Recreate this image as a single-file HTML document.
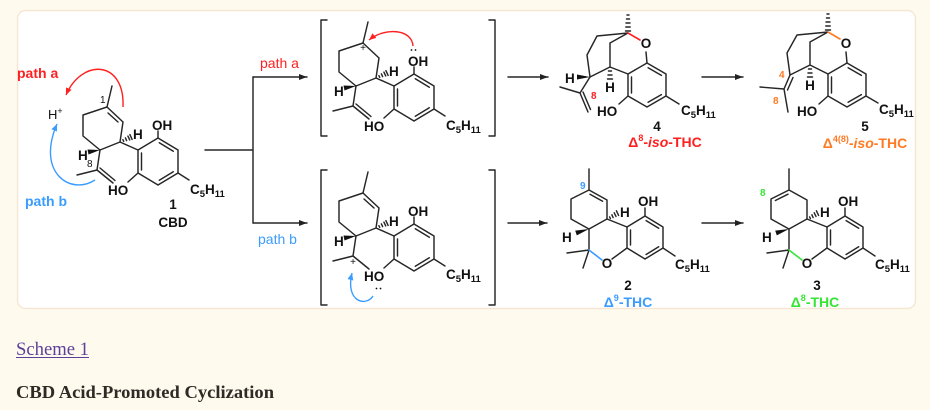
<!DOCTYPE html>
<html><head><meta charset="utf-8">
<style>
html,body{margin:0;padding:0;}
body{width:930px;height:410px;background:#fefaee;overflow:hidden;}
svg{display:block;}
.b{font-family:"Liberation Sans",Arial,sans-serif;font-weight:bold;font-size:13.5px;fill:#111;}
.n{font-family:"Liberation Sans",Arial,sans-serif;font-size:10px;fill:#111;}
</style></head><body>
<svg width="930" height="410" viewBox="0 0 930 410" xmlns="http://www.w3.org/2000/svg">
<defs>
<marker id="ak" markerUnits="userSpaceOnUse" markerWidth="9" markerHeight="6" refX="8" refY="3" orient="auto"><path d="M0,0 L8,3 L0,6 z" fill="#222"/></marker>
<marker id="ar" markerUnits="userSpaceOnUse" markerWidth="8" markerHeight="6" refX="7" refY="3" orient="auto"><path d="M0,0 L7,3 L0,6 z" fill="#ff2020"/></marker>
<marker id="ab" markerUnits="userSpaceOnUse" markerWidth="8" markerHeight="6" refX="7" refY="3" orient="auto"><path d="M0,0 L7,3 L0,6 z" fill="#3a9cff"/></marker>
</defs>
<rect x="17.5" y="10.5" width="898" height="298" rx="8" fill="#ffffff" stroke="#f6e7d4" stroke-width="1.5"/>

<g stroke="#262626" stroke-width="1.45" fill="none" stroke-linecap="round" stroke-linejoin="round">
<!-- ===== CBD ===== -->
<path d="M107,107 L123,122 L120,142 L100,150 L83,136 L83,115 Z"/>
<path d="M108,113 L118,122"/>
<path d="M107,107 L112,86"/>
<path d="M122.9,139.7 L123.7,141.3 M125.4,137.9 L126.6,140.6 M127.9,136.1 L129.7,139.9 M129.9,134.6 L132.1,139.4"/>
<path d="M100,150 L97,170 M97,170 L77,175 M97,170 L113,183 M100,168 L115,180.5"/>
<path d="M138,150 L158,138 L178,150 L178,173 L158,185 L138,173 Z"/>
<path d="M141.5,153 L141.5,170 M159.3,142.8 L173.3,151.2 M173.3,171.8 L159.3,180.2"/>
<path d="M120,142 L138,150 M158,138 L158,131 M138,173 L128,182 M178,173 L189,180"/>
<!-- branch -->
<path d="M205,150 L253,150 M253,77 L253,223"/>
<path d="M253,77 L307,77" marker-end="url(#ak)"/>
<path d="M253,223 L307,223" marker-end="url(#ak)"/>
<!-- brackets -->
<path d="M327,20 L321,20 L321,136 L327,136 M489,20 L495,20 L495,136 L489,136"/>
<path d="M327,170 L321,170 L321,305 L327,305 M489,170 L495,170 L495,305 L489,305"/>
<!-- ===== upper intermediate ===== -->
<path d="M363,43 L379,58 L376,78 L356,86 L339,72 L339,51 Z"/>
<path d="M363,43 L368,22"/>
<path d="M378.9,75.7 L379.7,77.3 M381.4,73.9 L382.6,76.6 M383.9,72.1 L385.7,75.9 M385.9,70.6 L388.1,75.4"/>
<path d="M356,86 L353,106 M353,106 L333,111 M353,106 L369,119 M356,104 L371,116.5"/>
<path d="M394,86 L414,74 L434,86 L434,109 L414,121 L394,109 Z"/>
<path d="M397.5,89 L397.5,106 M415.3,78.8 L429.3,87.2 M429.3,107.8 L415.3,116.2"/>
<path d="M376,78 L394,86 M414,74 L414,67 M394,109 L384,118 M434,109 L445,116"/>
<!-- ===== lower intermediate ===== -->
<path d="M363,193 L379,208 L376,228 L356,236 L339,222 L339,201 Z"/>
<path d="M364,199 L374,208"/>
<path d="M363,193 L368,172"/>
<path d="M378.9,225.7 L379.7,227.3 M381.4,223.9 L382.6,226.6 M383.9,222.1 L385.7,225.9 M385.9,220.6 L388.1,225.4"/>
<path d="M356,236 L353,256 M353,256 L333,261 M353,256 L369,269"/>
<path d="M394,236 L414,224 L434,236 L434,259 L414,271 L394,259 Z"/>
<path d="M397.5,239 L397.5,256 M415.3,228.8 L429.3,237.2 M429.3,257.8 L415.3,266.2"/>
<path d="M376,228 L394,236 M414,224 L414,217 M394,259 L384,268 M434,259 L445,266"/>
<!-- arrows -->
<path d="M508,77 L548,77" marker-end="url(#ak)"/>
<path d="M702,77 L743,77" marker-end="url(#ak)"/>
<path d="M508,223 L547,223" marker-end="url(#ak)"/>
<path d="M702,223 L743,223" marker-end="url(#ak)"/>
<!-- ===== 4 ===== -->
<path d="M627,15 L629,15 M626.5,19 L629.5,19 M626,23 L630,23 M625.8,27 L630.2,27 M625.5,31 L630.5,31"/>
<path d="M628,33 L597,36 L587,55 L590,77 L610,67 M628,33 L610,43 L610,67 L628,74"/>
<path d="M646,52 L647,63"/>
<path d="M608.5,71 L611.5,71 M608,75 L612,75 M607.5,79 L612.5,79"/>
<path d="M590,77 L580,93 M580,93 L560,87 M580,93 L588,112 M583,92 L590.5,109.5"/>
<path d="M628,74 L647,63 L666,74 L666,96 L647,107 L628,96 Z"/>
<path d="M631.5,77 L631.5,93 M648.1,67.7 L661.4,75.4 M661.4,94.6 L648.1,102.3"/>
<path d="M628,96 L619,104 M666,96 L679,104"/>
<!-- ===== 5 ===== -->
<path d="M827,14 L829,14 M826.5,18 L829.5,18 M826,22 L830,22 M825.8,26 L830.2,26 M825.5,30 L830.5,30"/>
<path d="M828,32 L797,35 L787,53 L790,75 L810,65 M828,32 L810,42 L810,65 L828,74"/>
<path d="M846,52 L847,63"/>
<path d="M808.5,69 L811.5,69 M808,73 L812,73 M807.5,77 L812.5,77"/>
<path d="M790,75 L784,89 M793,77.5 L787.5,90 M784,89 L760,87 M784,89 L788,112"/>
<path d="M828,74 L847,63 L866,74 L866,96 L847,107 L828,96 Z"/>
<path d="M831.5,77 L831.5,93 M848.1,67.7 L861.4,75.4 M861.4,94.6 L848.1,102.3"/>
<path d="M828,96 L819,104 M866,96 L878,103"/>
<!-- ===== 2 ===== -->
<path d="M589,169 L589,190"/>
<path d="M589,190 L607,200 L607,219 L589,229 L571,219 L571,199 Z"/>
<path d="M590,194.3 L602.6,201.3"/>
<path d="M609.6,216.9 L610.4,218.5 M611.9,214.8 L613.1,217.6 M614.2,212.8 L616,216.4 M616.4,210.8 L618.6,215.4"/>
<path d="M589,229 L589,250 M589,250 L567,253 M589,250 L583,268"/>
<path d="M612,259 L627,248 M607,219 L627,227"/>
<path d="M627,227 L645,216 L663,227 L663,248 L645,259 L627,248 Z"/>
<path d="M630.5,230 L630.5,245 M646.1,220.6 L658.7,228.3 M658.7,246.8 L646.1,254.5"/>
<path d="M645,216 L645,208 M663,248 L675,256"/>
<!-- ===== 3 ===== -->
<path d="M789,169 L789,190"/>
<path d="M789,190 L807,200 L807,219 L789,229 L771,219 L771,199 Z"/>
<path d="M775.4,200.5 L788,194.2"/>
<path d="M809.6,216.9 L810.4,218.5 M811.9,214.8 L813.1,217.6 M814.2,212.8 L816,216.4 M816.4,210.8 L818.6,215.4"/>
<path d="M789,229 L789,250 M789,250 L767,253 M789,250 L783,268"/>
<path d="M812,259 L827,248 M807,219 L827,227"/>
<path d="M827,227 L845,216 L863,227 L863,248 L845,259 L827,248 Z"/>
<path d="M830.5,230 L830.5,245 M846.1,220.6 L858.7,228.3 M858.7,246.8 L846.1,254.5"/>
<path d="M845,216 L845,208 M863,248 L875,256"/>
</g>

<!-- colored bonds -->
<g stroke-width="1.6" fill="none" stroke-linecap="round">
<path d="M628,33 L640,40" stroke="#ff2020"/>
<path d="M828,32 L840,39" stroke="#ff7a22"/>
<path d="M589,250 L602,260" stroke="#3a9cff"/>
<path d="M789,250 L802,260" stroke="#33e633"/>
</g>
<!-- wedges -->
<g fill="#111">
<polygon points="100,150 88.5,154.5 87.5,149.5"/>
<polygon points="356,86 344.5,90.5 343.5,85.5"/>
<polygon points="356,236 344.5,240.5 343.5,235.5"/>
<polygon points="590,77 577,74.5 577,79.5"/>
<polygon points="589,229 576.8,235.4 575.2,230.6"/>
<polygon points="789,229 776.8,235.4 775.2,230.6"/>
<circle cx="411.5" cy="50" r="0.9"/><circle cx="415.5" cy="50" r="0.9"/>
<circle cx="376.5" cy="288.5" r="0.9"/><circle cx="380.5" cy="288.5" r="0.9"/>
</g>
<!-- curved arrows -->
<g fill="none" stroke-width="1.4">
<path d="M123,107 C125,60 82,58 66,95" stroke="#ff2020" marker-end="url(#ar)"/>
<path d="M95,180 C70,196 36,172 57,124" stroke="#3a9cff" marker-end="url(#ab)"/>
<path d="M413,46 C412,29 385,27 369,40" stroke="#ff2020" marker-end="url(#ar)"/>
<path d="M373,296 C366,307 345,302 352,273" stroke="#3a9cff" marker-end="url(#ab)"/>
</g>

<!-- labels -->
<text x="17" y="78" font-family="Liberation Sans, Arial, sans-serif" font-weight="bold" font-size="14" fill="#ff1f1f">path a</text>
<text x="25" y="206" font-family="Liberation Sans, Arial, sans-serif" font-weight="bold" font-size="14" fill="#3a9cff">path b</text>
<text x="260" y="68" font-family="Liberation Sans, Arial, sans-serif" font-size="14" fill="#ff1f1f">path a</text>
<text x="258" y="244" font-family="Liberation Sans, Arial, sans-serif" font-size="14" fill="#3a9cff">path b</text>
<text x="48" y="119" font-family="Liberation Sans, Arial, sans-serif" font-size="13" fill="#111">H<tspan font-size="9" dy="-5">+</tspan></text>

<!-- CBD -->
<text class="n" x="100" y="103" font-size="9">1</text>
<text class="n" x="87" y="167">8</text>
<text class="b" x="133" y="139">H</text>
<text class="b" x="78" y="160">H</text>
<text class="b" x="152" y="130">OH</text>
<text class="b" x="108" y="195">HO</text>
<text class="b" x="190" y="194">C<tspan font-size="9.5" dy="3">5</tspan><tspan dy="-3">H</tspan><tspan font-size="9.5" dy="3">11</tspan></text>
<text class="b" x="173" y="209" text-anchor="middle">1</text>
<text class="b" x="173" y="227" text-anchor="middle" font-size="14">CBD</text>

<!-- upper intermediate -->
<text class="n" x="363" y="51" text-anchor="middle" font-size="9">+</text>
<text class="b" x="389" y="76">H</text>
<text class="b" x="334" y="96">H</text>
<text class="b" x="408" y="66">OH</text>
<text class="b" x="364" y="131">HO</text>
<text class="b" x="446" y="130">C<tspan font-size="9.5" dy="3">5</tspan><tspan dy="-3">H</tspan><tspan font-size="9.5" dy="3">11</tspan></text>

<!-- lower intermediate -->
<text class="n" x="353" y="265" text-anchor="middle" font-size="9">+</text>
<text class="b" x="389" y="226">H</text>
<text class="b" x="334" y="246">H</text>
<text class="b" x="408" y="216">OH</text>
<text class="b" x="364" y="281">HO</text>
<text class="b" x="446" y="279">C<tspan font-size="9.5" dy="3">5</tspan><tspan dy="-3">H</tspan><tspan font-size="9.5" dy="3">11</tspan></text>

<!-- 4 -->
<text class="b" x="646" y="48" text-anchor="middle">O</text>
<text class="b" x="610" y="92" text-anchor="middle">H</text>
<text class="b" x="565" y="83">H</text>
<text x="591" y="99" font-family="Liberation Sans, Arial, sans-serif" font-weight="bold" font-size="10" fill="#ff1f1f">8</text>
<text class="b" x="597" y="116">HO</text>
<text class="b" x="681" y="115">C<tspan font-size="9.5" dy="3">5</tspan><tspan dy="-3">H</tspan><tspan font-size="9.5" dy="3">11</tspan></text>
<text class="b" x="657" y="131" text-anchor="middle">4</text>
<text x="665" y="147" text-anchor="middle" font-family="Liberation Sans, Arial, sans-serif" font-weight="bold" font-size="14" fill="#ff1f1f">Δ<tspan font-size="9" dy="-6">8</tspan><tspan dy="6">-</tspan><tspan font-style="italic">iso</tspan>-THC</text>

<!-- 5 -->
<text class="b" x="846" y="48" text-anchor="middle">O</text>
<text class="b" x="810" y="90" text-anchor="middle">H</text>
<text x="779" y="78" font-family="Liberation Sans, Arial, sans-serif" font-weight="bold" font-size="10" fill="#ff7a22">4</text>
<text x="773" y="104" font-family="Liberation Sans, Arial, sans-serif" font-weight="bold" font-size="10" fill="#ff7a22">8</text>
<text class="b" x="797" y="116">HO</text>
<text class="b" x="879" y="114">C<tspan font-size="9.5" dy="3">5</tspan><tspan dy="-3">H</tspan><tspan font-size="9.5" dy="3">11</tspan></text>
<text class="b" x="865" y="131" text-anchor="middle">5</text>
<text x="865" y="148" text-anchor="middle" font-family="Liberation Sans, Arial, sans-serif" font-weight="bold" font-size="14" fill="#ff7a22">Δ<tspan font-size="9" dy="-6">4(8)</tspan><tspan dy="6">-</tspan><tspan font-style="italic">iso</tspan>-THC</text>

<!-- 2 -->
<text x="580" y="189" font-family="Liberation Sans, Arial, sans-serif" font-weight="bold" font-size="10" fill="#3a9cff">9</text>
<text class="b" x="620" y="217">H</text>
<text class="b" x="562" y="242">H</text>
<text class="b" x="607" y="268" text-anchor="middle">O</text>
<text class="b" x="638" y="206">OH</text>
<text class="b" x="675" y="269">C<tspan font-size="9.5" dy="3">5</tspan><tspan dy="-3">H</tspan><tspan font-size="9.5" dy="3">11</tspan></text>
<text class="b" x="628" y="290" text-anchor="middle">2</text>
<text x="628" y="307" text-anchor="middle" font-family="Liberation Sans, Arial, sans-serif" font-weight="bold" font-size="14" fill="#3a9cff">Δ<tspan font-size="9" dy="-6">9</tspan><tspan dy="6">-THC</tspan></text>

<!-- 3 -->
<text x="760" y="196" font-family="Liberation Sans, Arial, sans-serif" font-weight="bold" font-size="10" fill="#33e633">8</text>
<text class="b" x="820" y="217">H</text>
<text class="b" x="762" y="242">H</text>
<text class="b" x="807" y="268" text-anchor="middle">O</text>
<text class="b" x="838" y="206">OH</text>
<text class="b" x="875" y="269">C<tspan font-size="9.5" dy="3">5</tspan><tspan dy="-3">H</tspan><tspan font-size="9.5" dy="3">11</tspan></text>
<text class="b" x="817" y="290" text-anchor="middle">3</text>
<text x="815" y="307" text-anchor="middle" font-family="Liberation Sans, Arial, sans-serif" font-weight="bold" font-size="14" fill="#33e633">Δ<tspan font-size="9" dy="-6">8</tspan><tspan dy="6">-THC</tspan></text>

<!-- caption -->
<text x="16" y="355" font-family="Liberation Serif, serif" font-size="18.5" fill="#5b3f99" textLength="73" lengthAdjust="spacingAndGlyphs">Scheme 1</text>
<line x1="16" y1="357.5" x2="89" y2="357.5" stroke="#5b3f99" stroke-width="1"/>
<text x="16" y="398" font-family="Liberation Serif, serif" font-weight="bold" font-size="18.4" fill="#2e2a26" textLength="258" lengthAdjust="spacingAndGlyphs">CBD Acid-Promoted Cyclization</text>
</svg>
</body></html>
